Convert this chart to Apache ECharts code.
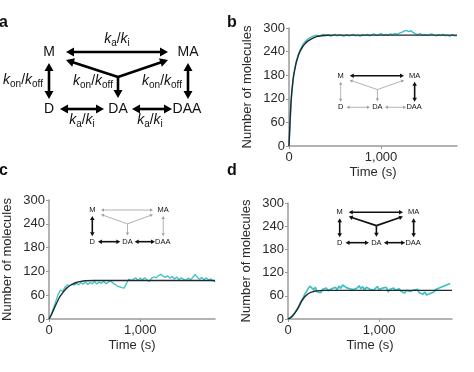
<!DOCTYPE html>
<html><head><meta charset="utf-8">
<script src="https://cdn.jsdelivr.net/npm/echarts@6/dist/echarts.min.js"></script>
<style>html,body{margin:0;padding:0;background:#fff}#c{width:474px;height:372px}</style>
</head><body><div id="c"></div>
<script>
// ---------- data ----------
const yTickValues = [0, 60, 120, 180, 240, 300];
const xTickValues = [0, 1000];
const xTickLabels = ['0', '1,000'];

const stepB = 25;
const noisyB = [0,118,180,212,232,246,258,265,271,275,278,280,282,279,282,284,280,283,279,282,284,280,283,281,279,283,280,282,284,280,282,279,283,281,284,280,283,285,281,283,286,282,284,281,285,283,286,284,287,289,292,294,291,293,288,285,283,286,282,284,281,283,285,282,280,283,281,284,280,282,279,283,280,281];
const fitB = [[0,0],[10,55],[20,105],[30,138],[40,160],[50,178],[75,208],[100,229],[125,243],[150,253],[175,260],[200,266],[250,273],[300,278],[350,280],[400,281.5],[500,282],[1825,282]];

const stepC = 25;
const noisyC = [0,12,28,45,62,73,70,80,86,84,88,85,90,86,92,88,93,87,92,89,95,88,93,90,95,89,93,96,91,87,83,81,79,78,90,101,97,100,104,97,103,99,104,98,95,103,106,104,109,113,108,105,109,103,107,101,106,99,104,100,97,103,99,104,112,106,100,105,99,104,98,101,96,94];
const fitC = [[0,0],[25,10],[50,23],[75,36],[100,48],[125,58],[150,66],[175,73],[200,79],[250,87],[300,92],[350,95],[400,96.5],[500,97],[1820,97]];

const stepD = 20;
const noisyD = [0,2,6,10,18,25,33,45,52,62,70,78,85,80,76,82,70,74,68,77,72,80,73,70,78,74,82,76,85,79,88,92,81,86,78,83,76,72,80,86,78,84,75,82,87,77,81,74,79,84,76,72,80,75,82,70,77,73,80,74,69,78,72,76,67,74,79,71,66,75,70,77,68,73,64,70,62,58,66,61,70,76,72,80,76,84,79,88,86,92];
const fitD = [[0,0],[25,3],[50,8],[75,15],[100,24],[125,35],[150,46],[175,55],[200,61],[225,66],[250,69],[275,71],[300,72.5],[350,73.5],[400,74],[1800,74]];

const xMax = [1825, 1820, 1800];
const nodeNames = ['M', 'MA', 'D', 'DA', 'DAA'];

// ---------- styling ----------
const FONT = '"Liberation Sans", Arial, Helvetica, sans-serif';
const TEAL = '#3fc0c0';
const FIT = '#1e2a30';
const AXIS = '#9a9a9a';
const TXT = '#2a2a2a';

const grids = [
  {left: 289, top: 28, width: 168, height: 118},
  {left: 47, top: 200, width: 168, height: 119},
  {left: 288, top: 203, width: 164, height: 116}
];

function xAx(gi) {
  return {
    type: 'value', gridIndex: gi, min: 0, max: xMax[gi], interval: 1000,
    axisLine: {lineStyle: {color: AXIS, width: 1.5}},
    axisTick: {show: true, length: 3, lineStyle: {color: AXIS}},
    axisLabel: {color: TXT, fontSize: 13, fontFamily: FONT, margin: 5, showMaxLabel: false,
      formatter: v => { const i = xTickValues.indexOf(v); return i >= 0 ? xTickLabels[i] : ''; }},
    splitLine: {show: false},
    name: 'Time (s)', nameLocation: 'middle', nameGap: 20,
    nameTextStyle: {color: TXT, fontSize: 13, fontFamily: FONT}
  };
}
function yAx(gi) {
  return {
    type: 'value', gridIndex: gi, min: yTickValues[0], max: yTickValues[yTickValues.length - 1], interval: 60,
    axisLine: {show: true, lineStyle: {color: AXIS, width: 1.5}},
    axisTick: {show: true, length: 3, lineStyle: {color: AXIS}},
    axisLabel: {color: TXT, fontSize: 13, fontFamily: FONT, margin: 4},
    splitLine: {show: false},
    name: 'Number of molecules', nameLocation: 'middle', nameGap: 35,
    nameTextStyle: {color: TXT, fontSize: 13, fontFamily: FONT}
  };
}
function noisySeries(gi, step, vals, w) {
  return {type: 'line', xAxisIndex: gi, yAxisIndex: gi, showSymbol: false, animation: false,
    data: vals.map((v, i) => [i * step, v]), lineStyle: {color: TEAL, width: w}, z: 2};
}
function fitSeries(gi, pts) {
  return {type: 'line', xAxisIndex: gi, yAxisIndex: gi, showSymbol: false, animation: false,
    smooth: 0.3, data: pts, lineStyle: {color: FIT, width: 1.4}, z: 3};
}

// ---------- reaction schemes (graphic annotations) ----------
const schemeNodePos = [[0,0],[139,0],[0,57],[69,57],[138,57]];
const schemeEdges = [
  {key: 'top', a: [17,0], b: [119,0], hA: true, hB: true},
  {key: 'y', a: [17,8], b: [69,25], hA: true, hB: false},
  {key: 'y', a: [69,25], b: [119,8], hA: false, hB: true},
  {key: 'y', a: [69,25], b: [69,46], hA: false, hB: true},
  {key: 'left', a: [0,11], b: [0,47], hA: true, hB: true},
  {key: 'right', a: [139,11], b: [139,47], hA: true, hB: true},
  {key: 'dda', a: [11,57], b: [55,57], hA: true, hB: true},
  {key: 'daa', a: [83,57], b: [123,57], hA: true, hB: true}
];
const BIG = {w: 2.6, color: '#000', L: 8, W: 4.5};
const THICK = {w: 1.6, color: '#111', L: 4, W: 2.3};
const THIN = {w: 0.8, color: '#a0a0a0', L: 3, W: 1.7};

function head(px, py, qx, qy, st) {
  const dx = px - qx, dy = py - qy, d = Math.hypot(dx, dy), ux = dx / d, uy = dy / d;
  const bx = px - ux * st.L, by = py - uy * st.L;
  return {type: 'polygon', silent: true, z: 10,
    shape: {points: [[px, py], [bx - uy * st.W, by + ux * st.W], [bx + uy * st.W, by - ux * st.W]]},
    style: {fill: st.color}};
}
function scheme(ox, oy, sx, sy, styles, fontSize) {
  const els = [];
  const P = p => [ox + p[0] * sx, oy + p[1] * sy];
  schemeEdges.forEach(e => {
    const st = styles[e.key];
    let [ax, ay] = P(e.a), [bx, by] = P(e.b);
    const d = Math.hypot(bx - ax, by - ay), ux = (bx - ax) / d, uy = (by - ay) / d;
    let sax = ax, say = ay, sbx = bx, sby = by;
    if (e.hA) { els.push(head(ax, ay, bx, by, st)); sax += ux * st.L * 0.8; say += uy * st.L * 0.8; }
    if (e.hB) { els.push(head(bx, by, ax, ay, st)); sbx -= ux * st.L * 0.8; sby -= uy * st.L * 0.8; }
    els.push({type: 'polyline', silent: true, z: 9, shape: {points: [[sax, say], [sbx, sby]]},
      style: {stroke: st.color, lineWidth: st.w, fill: null}});
  });
  nodeNames.forEach((n, i) => {
    const [x, y] = P(schemeNodePos[i]);
    els.push({type: 'text', x, y, z: 11, silent: true,
      style: {text: n, fill: '#111', fontSize, fontFamily: FONT, align: 'center', verticalAlign: 'middle'}});
  });
  return els;
}
const rateRich = {
  k: {fontSize: 14, fontStyle: 'italic', fontFamily: FONT, fill: '#111', lineHeight: 18},
  n: {fontSize: 14, fontFamily: FONT, fill: '#111', lineHeight: 18},
  s: {fontSize: 10, fontFamily: FONT, fill: '#111', lineHeight: 12, verticalAlign: 'bottom'}
};
const KAKI = '{k|k}{s|a}{n|/}{k|k}{s|i}';
const KONKOFF = '{k|k}{s|on}{n|/}{k|k}{s|off}';
function rate(x, y, txt) {
  return {type: 'text', x, y, z: 11, silent: true,
    style: {text: txt, rich: rateRich, align: 'center', verticalAlign: 'middle'}};
}
function letter(x, y, t) {
  return {type: 'text', x, y, silent: true,
    style: {text: t, fill: '#111', fontSize: 16, fontWeight: 'bold', fontFamily: FONT, align: 'left', verticalAlign: 'middle'}};
}

const allBig = {top: BIG, y: BIG, left: BIG, right: BIG, dda: BIG, daa: BIG};
const stylesB = {top: THICK, y: THIN, left: THIN, right: THICK, dda: THIN, daa: THIN};
const stylesC = {top: THIN, y: THIN, left: THICK, right: THIN, dda: THICK, daa: THICK};
const stylesD = {top: THICK, y: THICK, left: THICK, right: THICK, dda: THICK, daa: THICK};

const graphics = [].concat(
  scheme(49, 52, 1, 1, allBig, 14),
  [rate(117, 39, KAKI), rate(23, 80, KONKOFF), rate(93, 81, KONKOFF), rate(162, 81, KONKOFF),
   rate(82, 120, KAKI), rate(150, 120, KAKI)],
  scheme(340.7, 75.7, 0.532, 0.554, stylesB, 7.5),
  scheme(92.3, 210, 0.51, 0.556, stylesC, 7.5),
  scheme(339.7, 212.3, 0.532, 0.533, stylesD, 7.5),
  [letter(-1, 23, 'a'), letter(227, 23, 'b'), letter(-1, 171, 'c'), letter(227, 171, 'd')]
);

const chart = echarts.init(document.getElementById('c'), null, {renderer: 'canvas'});
chart.setOption({
  animation: false,
  backgroundColor: '#fff',
  grid: grids,
  xAxis: [xAx(0), xAx(1), xAx(2)],
  yAxis: [yAx(0), yAx(1), yAx(2)],
  series: [
    noisySeries(0, stepB, noisyB, 1.4), fitSeries(0, fitB),
    noisySeries(1, stepC, noisyC, 1.3), fitSeries(1, fitC),
    noisySeries(2, stepD, noisyD, 1.7), fitSeries(2, fitD)
  ],
  graphic: {elements: graphics}
});
</script>
</body></html>
